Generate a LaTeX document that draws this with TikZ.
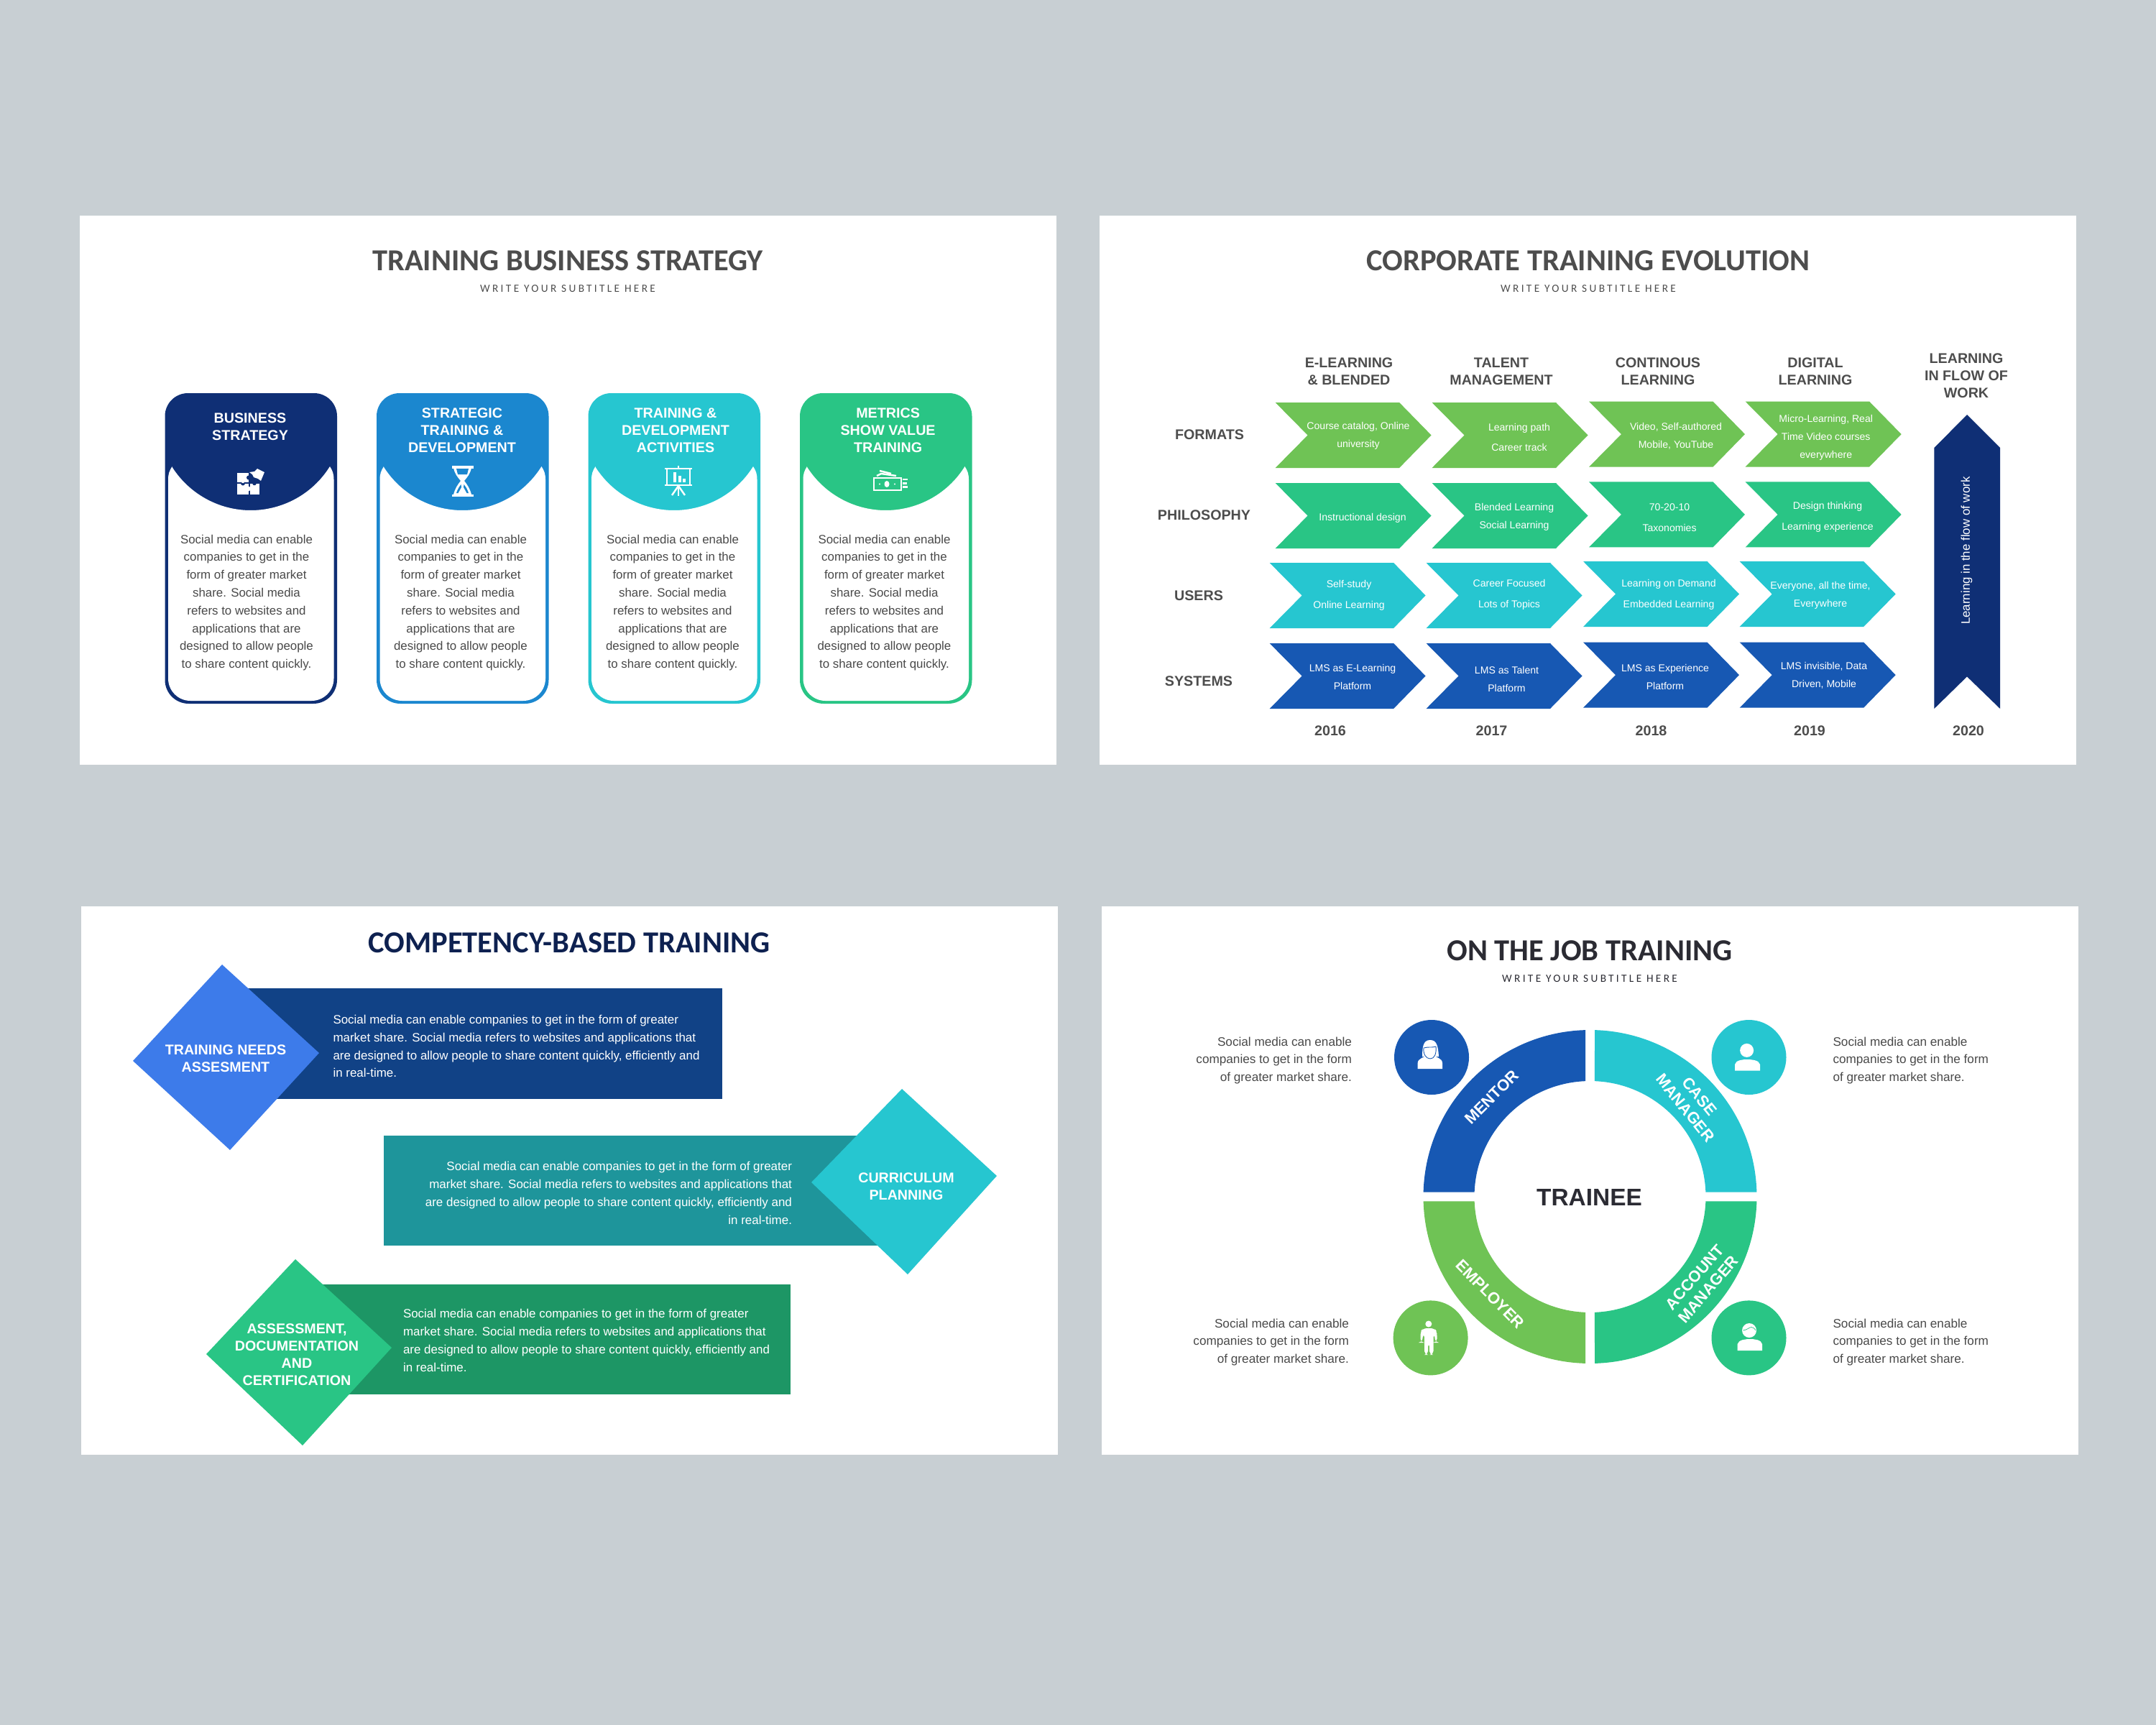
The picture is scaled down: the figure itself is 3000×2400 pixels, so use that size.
\documentclass[tikz,border=0pt]{standalone}
\usepackage{fontspec}
\setmainfont{Liberation Sans}
\newfontfamily\carl{Carlito}
\newfontfamily\carlsp[LetterSpace=22]{Carlito}
\definecolor{bgray}{HTML}{C8CFD3}
\definecolor{navy}{HTML}{0F2F75}
\definecolor{skyb}{HTML}{1B87CF}
\definecolor{cyanb}{HTML}{26C6D0}
\definecolor{greenb}{HTML}{29C585}
\definecolor{limeb}{HTML}{6FC355}
\definecolor{royal}{HTML}{1758B3}
\definecolor{darkb}{HTML}{114286}
\definecolor{tealb}{HTML}{1E959B}
\definecolor{forest}{HTML}{1D9665}
\definecolor{brightb}{HTML}{3D7BEA}
\definecolor{titleg}{HTML}{4D4D4D}
\definecolor{bodyg}{HTML}{4A4A4A}
\definecolor{titlenavy}{HTML}{0E2150}
\definecolor{titledark}{HTML}{2B2B33}
\tikzset{
  x=0.01cm,y=-0.01cm,
  every node/.style={inner sep=0pt,outer sep=0pt,yshift=-0.15pt},
  paneltitle/.style={font=\carl\bfseries\fontsize{12.08}{14}\selectfont,text=titleg},
  panelsub/.style={font=\carlsp\fontsize{4.35}{5}\selectfont,text=titleg},
  headtxt/.style={font=\bfseries\fontsize{5.6}{6.77}\selectfont,text=white,align=center},
  cardtxt/.style={font=\fontsize{4.8}{7.06}\selectfont,text=bodyg,align=center},
  chevtxt/.style={font=\fontsize{4}{7.1}\selectfont,text=white,align=center},
  collabel/.style={font=\bfseries\fontsize{5.6}{6.77}\selectfont,text=titleg,align=center},
  ctxt/.style={font=\fontsize{4.82}{7.06}\selectfont,text=white},
  dtxt/.style={font=\bfseries\fontsize{5.6}{6.77}\selectfont,text=white,align=center},
  ringtxt/.style={font=\bfseries\fontsize{6.3}{7.2}\selectfont,text=white,align=center},
  sidetxt/.style={font=\fontsize{4.88}{7.06}\selectfont,text=bodyg},
  icon/.style={fill=white,draw=none},
  iconline/.style={draw=white,line width=0.7pt,fill=none},
}
% #1 left x, #2 colour, #3 body centre x, #4 head centre x, #5 head centre y, #6 head text, #7 name
\newcommand{\trcard}[7]{%
  \fill[#2] (#1,579) arc[start angle=180,end angle=270,radius=32] -- ({#1+207.5},547) arc[start angle=270,end angle=360,radius=32]
     -- ({#1+239.5},946) arc[start angle=0,end angle=90,radius=33] -- ({#1+33},979) arc[start angle=90,end angle=180,radius=33] -- cycle;
  \fill[white] ({#1+10},649) .. controls ({#1+6},655) and ({#1+4.5},660) .. ({#1+4.5},667)
     -- ({#1+4.5},944) arc[start angle=180,end angle=90,radius=31] -- ({#1+204},975) arc[start angle=90,end angle=0,radius=31]
     -- ({#1+235},667) .. controls ({#1+235},660) and ({#1+233.5},655) .. ({#1+229.5},649)
     arc[start angle=32,end angle=148,radius=129.7] -- cycle;
  \node[headtxt] (h#7) at (#4,#5) {#6};
  \node[cardtxt] (b#7) at (#3,838) {Social media can enable\\companies to get in the\\form of greater market\\share. Social media\\refers to websites and\\applications that are\\designed to allow people\\to share content quickly.};
}
\newcommand{\chev}[4]{%
  \fill[#3] (#1,#2) -- ({#1+172.5},#2) -- ({#1+217},{#2+45.5}) -- ({#1+172.5},{#2+91}) -- (#1,{#2+91}) -- ({#1+45},{#2+45.5}) -- cycle;
  \coordinate (#4) at ({#1+108},{#2+45.5});
}
\newcommand{\quadr}[2]{%
  \fill[#2] ({2212.5+232*cos(#1+1.6)},{1665+232*sin(#1+1.6)}) arc[start angle={#1+1.6},end angle={#1+88.4},radius=232]
     -- ({2212.5+161*cos(#1+87.7)},{1665+161*sin(#1+87.7)}) arc[start angle={#1+87.7},end angle={#1+2.3},radius=161] -- cycle;
}
\begin{document}
\begin{tikzpicture}
\useasboundingbox (0,0) rectangle (3000,2400);
\fill[bgray] (0,0) rectangle (3000,2400);
\fill[white] (111,300) rectangle (1470,1064);
\fill[white] (1530,300) rectangle (2889,1064);
\fill[white] (113,1261) rectangle (1472,2024);
\fill[white] (1533,1261) rectangle (2892,2024);

% ---------- panel 1
\node[paneltitle] (t1) at (790,362) {TRAINING BUSINESS STRATEGY};
\node[panelsub] (s1) at (790,401) {WRITE YOUR SUBTITLE HERE};
\trcard{229.5}{navy}{343}{348}{593}{BUSINESS\\STRATEGY}{a}
\trcard{524}{skyb}{641}{643}{598}{STRATEGIC\\TRAINING \&\\DEVELOPMENT}{b}
\trcard{818.5}{cyanb}{936}{940}{598}{TRAINING \&\\DEVELOPMENT\\ACTIVITIES}{c}
\trcard{1113}{greenb}{1230.5}{1235.6}{598}{METRICS\\SHOW VALUE\\TRAINING}{d}
% puzzle icon
\fill[icon] (330,658) rectangle (346,671);
\fill[icon] (330,672.5) rectangle (346,688);
\fill[icon] (347.5,672.5) rectangle (361,688);
\fill[icon] (347,657) -- (354,656) -- (358,652) -- (368,657) -- (363,669) -- (359,666) -- (353,664) -- (351,660) -- cycle;
\fill[navy] (346,664.5) circle (3);
\fill[navy] (338,672.5) circle (3);
\fill[icon] (346,680) circle (3.2);
\fill[icon] (338,670) circle (2.2);
\fill[navy] (354,672.5) circle (2.8);
% hourglass icon
\fill[icon] (628.5,648) rectangle (658.5,651.5);
\fill[icon] (628.5,687.5) rectangle (658.5,691);
\fill[icon] (631,651) .. controls (633,660) and (637,664) .. (641,669) .. controls (637,674) and (633,680) .. (631,688)
   -- (656,688) .. controls (654,680) and (650,674) .. (646,669) .. controls (650,664) and (654,660) .. (656,651) -- cycle;
\fill[skyb] (635,652) -- (652,652) -- (650,660) -- (637,660) -- cycle;
\fill[skyb] (641.5,674) -- (642,678) -- (637.5,686) -- (635,686) .. controls (636.5,681) and (639,677) .. (641.5,674) -- cycle;
\fill[skyb] (645.5,674) -- (645,678) -- (649.5,686) -- (652,686) .. controls (650.5,681) and (648,677) .. (645.5,674) -- cycle;
% board icon
\draw[iconline] (925,652) -- (963,652);
\draw[iconline] (928,652) -- (928,675) -- (960,675) -- (960,652);
\draw[iconline] (925,675) -- (963,675);
\draw[iconline] (944,648) -- (944,652);
\draw[iconline] (944,676) -- (935,689);
\draw[iconline] (944,676) -- (953,689);
\draw[iconline] (944,676) -- (944,690);
\fill[icon] (937,657) rectangle (941,671);
\fill[icon] (944,662) rectangle (947.5,671);
\fill[icon] (950,666) rectangle (953.5,671);
% money icon
\draw[iconline] (1216,665) rectangle (1254,682);
\fill[icon] (1234,673.5) ellipse (3.5 and 4.5);
\fill[icon] (1224,673.5) circle (1.2);
\fill[icon] (1245,673.5) circle (1.2);
\draw[iconline] (1220,662) -- (1226,659) -- (1247,662);
\draw[iconline] (1224,655) -- (1240,659);
\draw[iconline] (1256,667) -- (1263,667);
\draw[iconline] (1256,672.5) -- (1262,672.5);
\draw[iconline] (1256,677.5) -- (1263,677.5);

% ---------- panel 2
\node[paneltitle] (t2) at (2210,362) {CORPORATE TRAINING EVOLUTION};
\node[panelsub] (s2) at (2210,401) {WRITE YOUR SUBTITLE HERE};
\node[collabel] (c1) at (1877,516) {E-LEARNING\\\& BLENDED};
\node[collabel] (c2) at (2089,516) {TALENT\\MANAGEMENT};
\node[collabel] (c3) at (2307,516) {CONTINOUS\\LEARNING};
\node[collabel] (c4) at (2526,516) {DIGITAL\\LEARNING};
\node[collabel] (c5) at (2736,522) {LEARNING\\IN FLOW OF\\WORK};
\node[collabel] (r1) at (1683,604) {FORMATS};
\node[collabel] (r2) at (1675.5,716) {PHILOSOPHY};
\node[collabel] (r3) at (1668,828.5) {USERS};
\node[collabel] (r4) at (1668,947) {SYSTEMS};
\chev{1774.6}{560}{limeb}{a1}\chev{1992.5}{560}{limeb}{a2}\chev{2211}{558.6}{limeb}{a3}\chev{2428.6}{558.6}{limeb}{a4}
\chev{1774.6}{672}{greenb}{b1}\chev{1992.5}{672}{greenb}{b2}\chev{2211}{670.4}{greenb}{b3}\chev{2428.6}{670.4}{greenb}{b4}
\chev{1766.6}{783}{cyanb}{c1x}\chev{1984.5}{783}{cyanb}{c2x}\chev{2203}{781}{cyanb}{c3x}\chev{2420.7}{781}{cyanb}{c4x}
\chev{1766.6}{895}{royal}{d1}\chev{1984.5}{895}{royal}{d2}\chev{2203}{893.6}{royal}{d3}\chev{2420.7}{893.6}{royal}{d4}
\node[chevtxt] (ta1) at (1890,605.5) {Course catalog, Online\\university};
\node[chevtxt] (ta2) at (2114,608) {Learning path\\[1pt]Career track};
\node[chevtxt] (ta3) at (2332,606) {Video, Self-authored\\Mobile, YouTube};
\node[chevtxt] (ta4) at (2540.7,608) {Micro-Learning, Real\\Time Video courses\\everywhere};
\node[chevtxt] (tb1) at (1896,720) {Instructional design};
\node[chevtxt] (tb2) at (2107,718.5) {Blended Learning\\Social Learning};
\node[chevtxt] (tb3) at (2323,719.5) {70-20-10\\[1pt]Taxonomies};
\node[chevtxt] (tb4) at (2543,719) {Design thinking\\[1pt]Learning experience};
\node[chevtxt] (tc1) at (1877,828) {Self-study\\[1pt]Online Learning};
\node[chevtxt] (tc2) at (2100,827) {Career Focused\\[1pt]Lots of Topics};
\node[chevtxt] (tc3) at (2322,827) {Learning on Demand\\[1pt]Embedded Learning};
\node[chevtxt] (tc4) at (2533,827.5) {Everyone, all the time,\\Everywhere};
\node[chevtxt] (td1) at (1882,941.5) {LMS as E-Learning\\Platform};
\node[chevtxt] (td2) at (2096.5,944.5) {LMS as Talent\\Platform};
\node[chevtxt] (td3) at (2317,941.5) {LMS as Experience\\Platform};
\node[chevtxt] (td4) at (2538,939.5) {LMS invisible, Data\\Driven, Mobile};
\fill[navy] (2691.4,623) -- (2737,577) -- (2783,623) -- (2783,986) -- (2737,941.4) -- (2691.4,986) -- cycle;
\node[font=\fontsize{4.8}{6}\selectfont,text=white,rotate=90] (flow) at (2736.4,765.6) {Learning in the flow of work};
\node[collabel] (y1) at (1851,1016) {2016};
\node[collabel] (y2) at (2075.5,1016) {2017};
\node[collabel] (y3) at (2297.5,1016) {2018};
\node[collabel] (y4) at (2518,1016) {2019};
\node[collabel] (y5) at (2739,1016) {2020};

% ---------- panel 3
\node[paneltitle,text=titlenavy] (t3) at (792,1311) {COMPETENCY-BASED TRAINING};
\fill[darkb] (340,1375) rectangle (1005,1529);
\fill[brightb] (185,1476) -- (309,1342) -- (444,1465) -- (320,1600) -- cycle;
\node[dtxt] (d1t) at (314,1472) {TRAINING NEEDS\\ASSESMENT};
\node[ctxt,anchor=west,align=left] (p1) at (463.5,1455) {Social media can enable companies to get in the form of greater\\market share. Social media refers to websites and applications that\\are designed to allow people to share content quickly, efficiently and\\in real-time.};
\fill[tealb] (534,1580) rectangle (1240,1733);
\fill[cyanb] (1129,1645) -- (1255,1515) -- (1387,1636) -- (1263,1773) -- cycle;
\node[dtxt] (d2t) at (1261,1650) {CURRICULUM\\PLANNING};
\node[ctxt,anchor=east,align=right] (p2) at (1102,1659.5) {Social media can enable companies to get in the form of greater\\market share. Social media refers to websites and applications that\\are designed to allow people to share content quickly, efficiently and\\in real-time.};
\fill[forest] (440,1787) rectangle (1100,1940);
\fill[greenb] (287,1884) -- (411,1752) -- (545,1875) -- (421,2011) -- cycle;
\node[dtxt] (d3t) at (413,1884) {ASSESSMENT,\\DOCUMENTATION\\AND\\CERTIFICATION};
\node[ctxt,anchor=west,align=left] (p3) at (561,1864.5) {Social media can enable companies to get in the form of greater\\market share. Social media refers to websites and applications that\\are designed to allow people to share content quickly, efficiently and\\in real-time.};

% ---------- panel 4
\node[paneltitle,text=titledark] (t4) at (2212,1322) {ON THE JOB TRAINING};
\node[panelsub,text=titledark] (s4) at (2212,1361) {WRITE YOUR SUBTITLE HERE};
\quadr{180}{royal}
\quadr{270}{cyanb}
\quadr{0}{greenb}
\quadr{90}{limeb}
\node[font=\bfseries\fontsize{9.5}{11}\selectfont,text=titledark] (trainee) at (2211.5,1665) {TRAINEE};
\node[ringtxt,rotate=45] (r1t) at (2075.5,1526) {MENTOR};
\node[ringtxt,rotate=-51] (r2t) at (2355,1533) {CASE\\MANAGER};
\node[ringtxt,rotate=49] (r3t) at (2367.5,1785) {ACCOUNT\\MANAGER};
\node[ringtxt,rotate=-45.5] (r4t) at (2073.5,1800) {EMPLOYER};
\fill[royal] (1992,1471) circle (52);
\fill[cyanb] (2433.5,1471) circle (52);
\fill[limeb] (1990.6,1861.4) circle (52);
\fill[greenb] (2433.5,1861.4) circle (52);
% woman
\fill[icon] (1972.6,1487) -- (1972.6,1479) .. controls (1973,1472) and (1983,1471) .. (1985,1468) -- (1995,1468) .. controls (1997,1471) and (2007,1472) .. (2007,1479) -- (2007,1487) -- cycle;
\fill[icon] (1979,1470) .. controls (1979,1455) and (1981,1447) .. (1990,1447) .. controls (1999,1447) and (2001,1455) .. (2002,1470) -- cycle;
\draw[royal,line width=0.25pt] (1981,1458) .. controls (1980,1466) and (1984,1473) .. (1990,1473) .. controls (1996,1473) and (1999,1466) .. (1998,1456) .. controls (1992,1458) and (1988,1456) .. (1981,1458);
% man top-right
\fill[icon] (2430.6,1461.4) circle (9.5);
\fill[icon] (2414,1489.6) -- (2414,1481) .. controls (2415,1475) and (2425,1474) .. (2431,1474) .. controls (2437,1474) and (2448,1475) .. (2449,1481) -- (2449,1489.6) -- cycle;
% man bottom-right
\fill[icon] (2434,1851) circle (10);
\draw[greenb,line width=0.2pt] (2425,1851) .. controls (2430,1851) and (2434,1846.5) .. (2437,1846.5) .. controls (2440,1846.5) and (2442,1849) .. (2443,1851);
\fill[icon] (2417.6,1879) -- (2417.6,1870) .. controls (2419,1864) and (2429,1863) .. (2435,1863) .. controls (2441,1863) and (2451,1864) .. (2452,1870) -- (2452,1879) -- cycle;
% standing person
\fill[icon] (1987.8,1842) circle (4.5);
\fill[icon,rounded corners=1.5] (1980,1848) -- (1996,1848) -- (1999.5,1853) -- (1999.5,1868) -- (1997,1868) -- (1996,1855) -- (1994.5,1855) -- (1994.5,1885) -- (1989,1885) -- (1989,1868) -- (1987,1868) -- (1987,1885) -- (1982,1885) -- (1982,1855) -- (1980,1855) -- (1979,1868) -- (1976.5,1868) -- (1976.5,1853) -- cycle;
\node[sidetxt,anchor=east,align=right] (s1t) at (1881,1475) {Social media can enable\\companies to get in the form\\of greater market share.};
\node[sidetxt,anchor=east,align=right] (s2t) at (1877,1867) {Social media can enable\\companies to get in the form\\of greater market share.};
\node[sidetxt,anchor=west,align=left] (s3t) at (2550.5,1475) {Social media can enable\\companies to get in the form\\of greater market share.};
\node[sidetxt,anchor=west,align=left] (s4t) at (2550.5,1867) {Social media can enable\\companies to get in the form\\of greater market share.};
\end{tikzpicture}
\end{document}
